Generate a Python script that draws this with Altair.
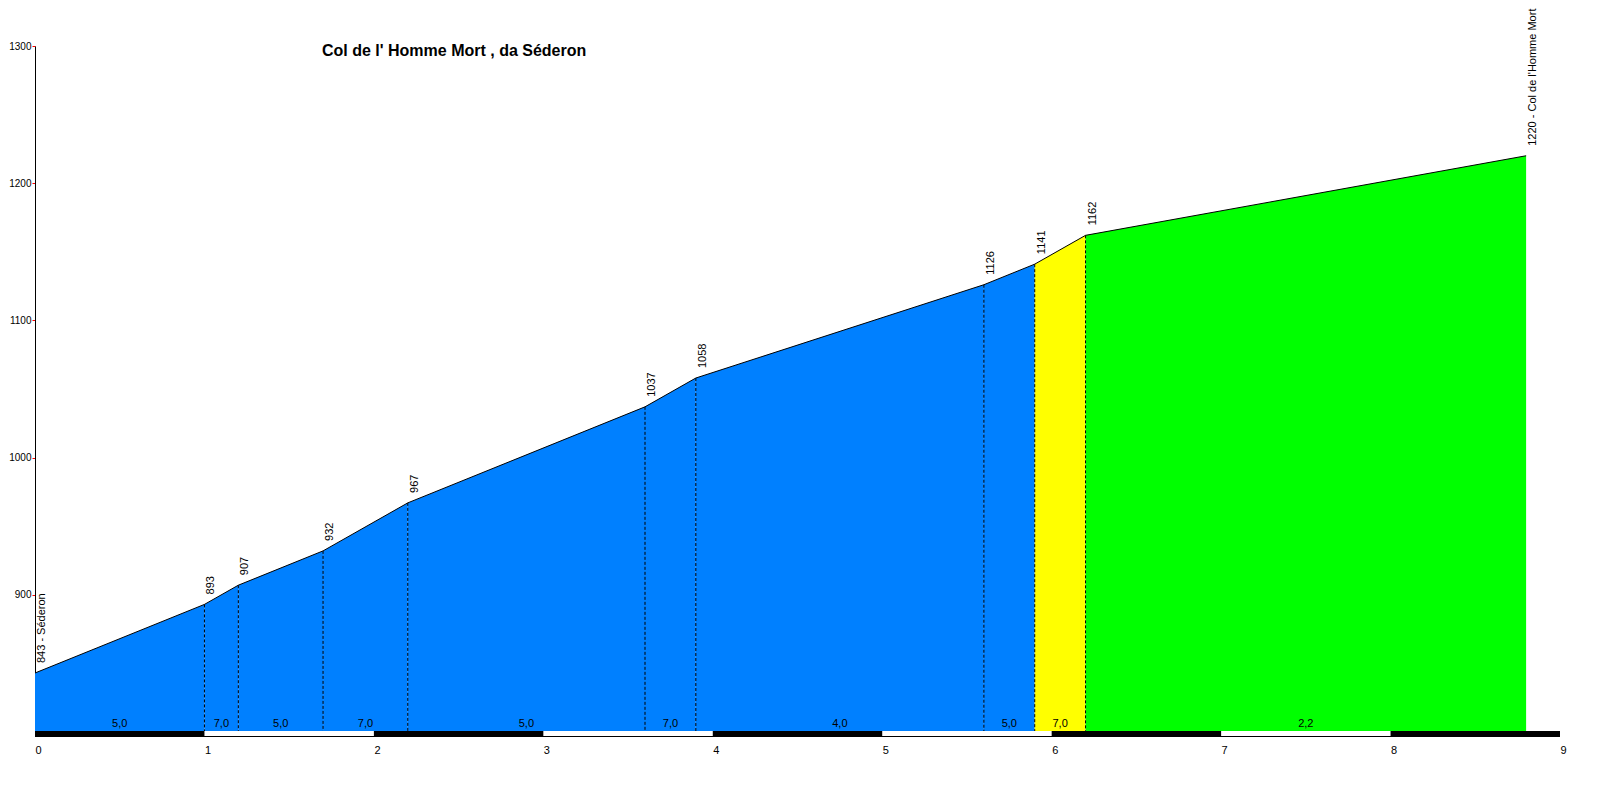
import altair as alt
import pandas as pd

# ---- data ----
km = [0.0, 1.0, 1.2, 1.7, 2.2, 3.6, 3.9, 5.6, 5.9, 6.2, 8.8]
elev = [843, 893, 907, 932, 967, 1037, 1058, 1126, 1141, 1162, 1220]
point_labels = ["843 - Séderon", "893", "907", "932", "967", "1037", "1058",
                "1126", "1141", "1162", "1220 - Col de l'Homme Mort"]
grad_labels = ["5,0", "7,0", "5,0", "7,0", "5,0", "7,0", "4,0", "5,0", "7,0", "2,2"]
seg_colors = ["#0080FF"] * 8 + ["#FFFF00", "#00FF00"]
km_ticks = list(range(10))
y_ticks = [900, 1000, 1100, 1200, 1300]
base_elev = 800
title_text = "Col de l' Homme Mort , da Séderon"

FONT = "Liberation Sans"

# tables built from the arrays
area_rows = []
for i in range(len(km) - 1):
    area_rows.append({"km": km[i], "elev": elev[i], "base": base_elev, "color": seg_colors[i], "seg": i})
    area_rows.append({"km": km[i + 1], "elev": elev[i + 1], "base": base_elev, "color": seg_colors[i], "seg": i})
area_df = pd.DataFrame(area_rows)

prof_df = pd.DataFrame({"km": km, "elev": elev, "label": point_labels, "base": base_elev})
inner_df = prof_df.iloc[1:-1]
grad_df = pd.DataFrame({
    "mid": [(km[i] + km[i + 1]) / 2 for i in range(len(km) - 1)],
    "label": grad_labels,
    "base": base_elev,
})
bar_full = pd.DataFrame({"start": [km_ticks[0]], "end": [km_ticks[-1]], "base": [base_elev]})
bar_white = pd.DataFrame({
    "start": [k for k in km_ticks[:-1] if k % 2 == 1],
    "end": [k + 1 for k in km_ticks[:-1] if k % 2 == 1],
})
bar_white["base"] = base_elev

xscale = alt.Scale(domain=[0, 9], nice=False, zero=False)
yscale = alt.Scale(domain=[800, 1300], nice=False, zero=False)
xaxis = alt.Axis(values=km_ticks, title=None, domain=False, ticks=False, grid=False,
                 labelAlign="left", labelPadding=12, labelFontSize=11, labelFont=FONT,
                 labelColor="#000000", format="d")
yaxis = alt.Axis(values=y_ticks, title=None, grid=False, domain=True, domainColor="#000000",
                 tickColor="#FF0000", tickSize=3, labelPadding=1, labelFontSize=10,
                 labelFont=FONT, labelColor="#000000", format="d")


def X(f):
    return alt.X(f, scale=xscale, axis=xaxis)


def Y(f):
    return alt.Y(f, scale=yscale, axis=yaxis, stack=None)


area = alt.Chart(area_df).mark_area(opacity=1, interpolate="linear").encode(
    x=X("km:Q"),
    y=Y("elev:Q"),
    y2="base:Q",
    color=alt.Color("color:N", scale=None),
    detail="seg:N",
)

dashes = alt.Chart(inner_df).mark_rule(color="#000000", strokeWidth=1, strokeDash=[3, 2]).encode(
    x=X("km:Q"),
    y=Y("elev:Q"),
    y2="base:Q",
)

outline = alt.Chart(prof_df).mark_line(color="#000000", strokeWidth=1).encode(
    x=X("km:Q"),
    y=Y("elev:Q"),
)

# angle 270: dx moves the text up, dy moves it right on screen
plabels = alt.Chart(prof_df).mark_text(
    angle=270, align="left", baseline="middle", dx=10, dy=7,
    font=FONT, fontSize=11, color="#000000"
).encode(
    x=X("km:Q"),
    y=Y("elev:Q"),
    text="label:N",
)

glabels = alt.Chart(grad_df).mark_text(
    align="center", baseline="bottom", dy=-3,
    font=FONT, fontSize=11, color="#000000"
).encode(
    x=X("mid:Q"),
    y=Y("base:Q"),
    text="label:N",
)

bar_black = alt.Chart(bar_full).mark_rule(color="#000000", strokeWidth=6, yOffset=2).encode(
    x=X("start:Q"),
    x2="end:Q",
    y=Y("base:Q"),
)

bar_w = alt.Chart(bar_white).mark_rule(color="#FFFFFF", strokeWidth=5, yOffset=1.5).encode(
    x=X("start:Q"),
    x2="end:Q",
    y=Y("base:Q"),
)

chart = alt.layer(area, dashes, outline, plabels, glabels, bar_black, bar_w).properties(
    width=1525,
    height=686,
    autosize="none",
    padding={"left": 27, "top": 38, "right": 30, "bottom": 40},
    title=alt.TitleParams(
        text=title_text, anchor="start", frame="group", dx=287, offset=-14, dy=49,
        baseline="alphabetic", fontSize=16, font=FONT, fontWeight="bold", color="#000000",
    ),
    background="#FFFFFF",
).configure_view(stroke=None)

chart.save("out.html", embed_options={"renderer": "svg", "actions": False})
